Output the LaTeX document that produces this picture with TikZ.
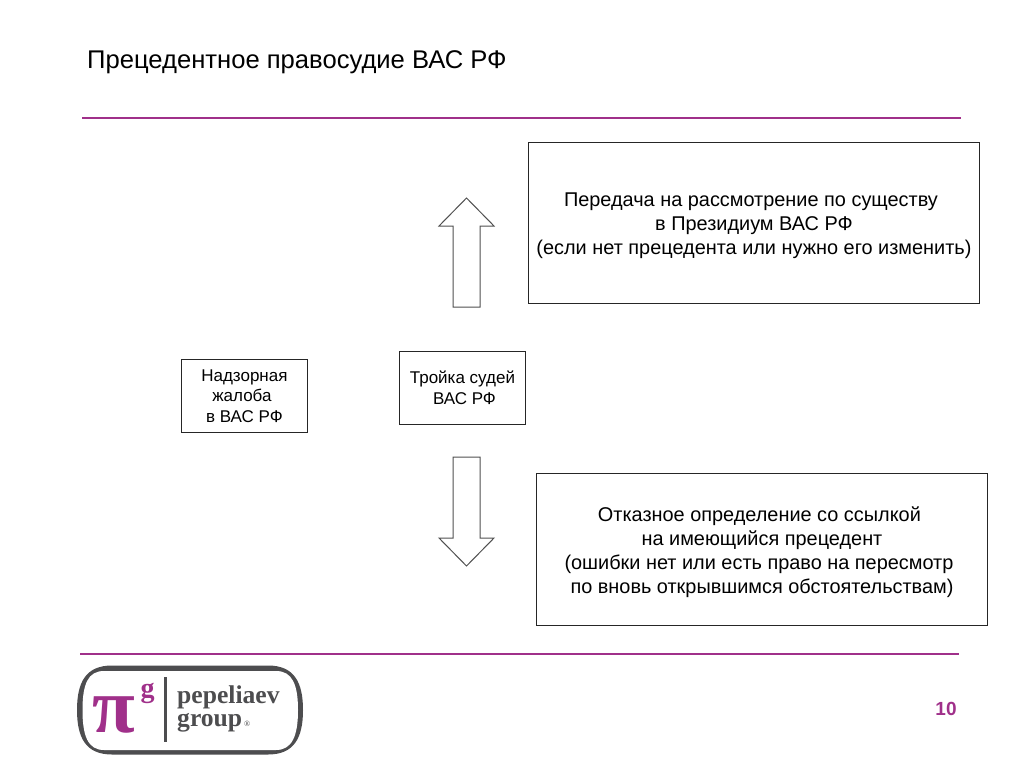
\documentclass[tikz,border=0pt]{standalone}
\usepackage{fontspec}
\setmainfont{Liberation Sans}
\newfontfamily\logofont{Liberation Serif}
\usetikzlibrary{positioning}
\definecolor{pgpurple}{HTML}{A0308A}
\definecolor{pggray}{HTML}{4D4D4F}
\definecolor{linegray}{HTML}{505050}
\newcommand{\pushdown}{\rule{0pt}{20pt}}
\tikzset{
	bigbox/.style={draw=black!85,line width=.9pt,align=center,font=\fontsize{19.9}{24}\selectfont,anchor=north west,inner sep=0pt},
	smallbox/.style={draw=black!85,line width=.9pt,align=center,font=\fontsize{17}{20.5}\selectfont,anchor=north west,inner sep=0pt},
	blockarrow/.style={draw=linegray,line width=1pt,fill=white},
	rule/.style={pgpurple,line width=1.6pt},
	logotext/.style={anchor=base west,align=left,inner sep=0pt,text=pggray,font=\logofont\bfseries\fontsize{25.6}{23}\selectfont}
}
\begin{document}
\begin{tikzpicture}[x=1pt,y=-1pt]
	\useasboundingbox (0,0) rectangle (1024,768);
	%TITLE
	\node[anchor=base west,inner sep=0pt,font=\fontsize{25.6}{28}\selectfont] (title) at (87,68) {Прецедентное правосудие ВАС РФ};
	\coordinate (topL) at (82,118);
	\coordinate (topR) at (961,118);
	\coordinate (botL) at (80,654);
	\coordinate (botR) at (959,654);
	\draw[rule] (topL) -- (topR);
	\draw[rule] (botL) -- (botR);
	%BOXES
	\node[bigbox,minimum width=451pt,minimum height=160.5pt] (refer) at (528,142) {\pushdown Передача на рассмотрение по существу\hspace*{6pt}\\в Президиум ВАС РФ\\(если нет прецедента или нужно его изменить)};
	\node[bigbox,minimum width=451pt,minimum height=152.5pt] (refuse) at (536,472.5) {\pushdown Отказное определение со ссылкой\hspace*{5pt}\\на имеющийся прецедент\\\mbox{(ошибки нет или есть право на пересмотр\kern6pt}\\по вновь открывшимся обстоятельствам)};
	\node[smallbox,minimum width=126pt,minimum height=73pt] (complaint) at (181,359) {Надзорная\\\mbox{жалоба\kern5pt}\\в ВАС РФ};
	\node[smallbox,minimum width=126pt,minimum height=73pt] (judges) at (399,351) {Тройка судей\\\hspace*{4pt}ВАС РФ};
	%ARROWS
	\draw[blockarrow] (466.5,198) -- (494,226) -- (480,226) -- (480,307) -- (453,307) -- (453,226) -- (439,226) -- cycle;
	\draw[blockarrow] (466.5,566) -- (494,538) -- (480,538) -- (480,457) -- (453,457) -- (453,538) -- (439,538) -- cycle;
	%LOGO
	\fill[pggray] (112,665.5) .. controls (86,665.5) and (77,682) .. (77,710) .. controls (77,738) and (86,754.5) .. (112,754.5) -- (268,754.5) .. controls (294,754.5) and (303,738) .. (303,710) .. controls (303,682) and (294,665.5) .. (268,665.5) -- cycle;
	\fill[white] (104,671) .. controls (88,671) and (82.5,684) .. (82.5,710) .. controls (82.5,736) and (88,750) .. (104,750) -- (276,750) .. controls (292,750) and (298,736) .. (298,710) .. controls (298,684) and (292,671) .. (276,671) -- cycle;
	\draw[pggray,line width=2.6pt] (165.7,677) -- (165.7,742);
	\node[inner sep=0pt,anchor=base,text=pgpurple,font=\logofont\bfseries\fontsize{78}{78}\selectfont] (pi) at (114,732) {π};
	\node[inner sep=0pt,anchor=base,text=pgpurple,font=\logofont\bfseries\fontsize{28}{28}\selectfont] (g) at (147.5,697) {g};
	\node[logotext] (pep) at (177,726) {pepeliaev\\group};
	\node[anchor=base west,inner sep=0pt,text=pggray,font=\logofont\fontsize{8}{8}\selectfont] (reg) at (244,726) {®};
	%PAGE
	\node[inner sep=0pt,text=pgpurple,font=\bfseries\fontsize{19}{20}\selectfont] (page) at (946,709) {10};
\end{tikzpicture}
\end{document}
